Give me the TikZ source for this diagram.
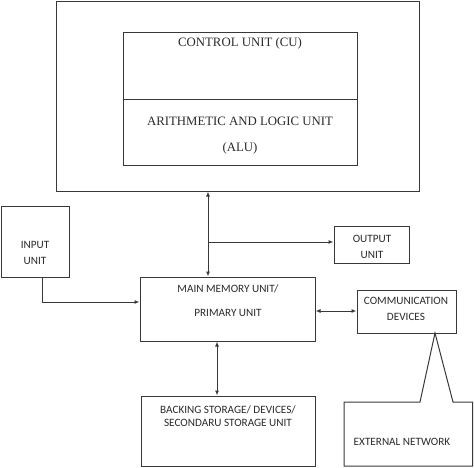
\documentclass[tikz,border=0pt]{standalone}
\usepackage{fontspec}
\setmainfont{Liberation Serif}
\newfontfamily\calfont{Carlito}
\usetikzlibrary{arrows.meta}
\definecolor{ln}{HTML}{383838}
\definecolor{tx}{HTML}{2A2A2A}
\tikzset{
  box/.style={draw=ln, line width=1pt, rectangle, inner sep=0pt},
  serif/.style={text=tx, font=\fontsize{12.8}{14}\selectfont, inner sep=0pt},
  sans/.style={text=tx, font=\calfont\fontsize{11.2}{13}\selectfont, inner sep=0pt},
  con/.style={draw=ln, line width=1pt, -{Latex[length=5pt,width=4pt]}},
  con2/.style={draw=ln, line width=1pt, {Latex[length=5pt,width=4pt]}-{Latex[length=5pt,width=4pt]}}
}
\begin{document}
\begin{tikzpicture}[x=1pt,y=-1pt]
\useasboundingbox (0,0) rectangle (474,467);
% boxes
\node[box, minimum width=363pt, minimum height=190pt] (cpu) at (237.5,96) {};
\node[box, minimum width=234pt, minimum height=67pt] (cu) at (240,65.5) {};
\node[box, minimum width=234pt, minimum height=66pt] (alu) at (240,132) {};
\node[box, minimum width=68pt, minimum height=71pt] (input) at (35,241.5) {};
\node[box, minimum width=75pt, minimum height=37pt] (output) at (371.5,244.5) {};
\node[box, minimum width=175pt, minimum height=64pt] (mem) at (227.5,309) {};
\node[box, minimum width=99pt, minimum height=43pt] (comm) at (406.5,311.5) {};
\node[box, minimum width=174pt, minimum height=70pt] (back) at (228,431) {};
% external network callout
\coordinate (ext) at (435,333);
\draw[ln, line width=1pt] (344,466) -- (344,402) -- (420,402) -- (ext) -- (453,402) -- (472.5,402) -- (472.5,466) -- cycle;
% texts
\node[serif] (tcu) at (240,43) {CONTROL UNIT (CU)};
\node[serif] (talu1) at (240,121) {ARITHMETIC AND LOGIC UNIT};
\node[serif] (talu2) at (240,148) {(ALU)};
\node[sans] (tin1) at (35,245) {INPUT};
\node[sans] (tin2) at (35,261) {UNIT};
\node[sans] (tout1) at (372,239) {OUTPUT};
\node[sans] (tout2) at (372,255) {UNIT};
\node[sans] (tmem1) at (228,289) {MAIN MEMORY UNIT/};
\node[sans] (tmem2) at (228,313) {PRIMARY UNIT};
\node[sans] (tcom1) at (406,301) {COMMUNICATION};
\node[sans] (tcom2) at (406,317) {DEVICES};
\node[sans] (tback1) at (228,410) {BACKING STORAGE/ DEVICES/};
\node[sans] (tback2) at (228,422.5) {SECONDARU STORAGE UNIT};
\node[sans] (text) at (402,442) {EXTERNAL NETWORK};
% connectors
\coordinate (j) at (208,242);
\draw[con2] (j |- cpu.south) -- (j |- mem.north);
\draw[con] (j) -- (j -| output.west);
\coordinate (ic) at (42,302);
\draw[con] (ic |- input.south) -- (ic) -- (ic -| mem.west);
\coordinate (mc) at (330,311);
\draw[con2] (mc -| mem.east) -- (mc -| comm.west);
\coordinate (mb) at (217,370);
\draw[con2] (mb |- mem.south) -- (mb |- back.north);
\end{tikzpicture}
\end{document}
